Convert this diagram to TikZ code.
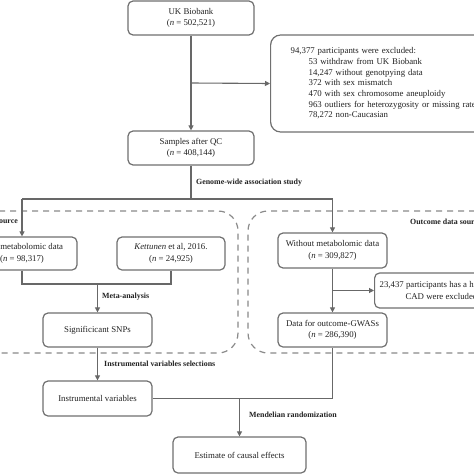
\documentclass[tikz,border=0pt]{standalone}
\usepackage{fontspec}
\setmainfont{Liberation Serif}
\usetikzlibrary{arrows.meta}
\definecolor{boxc}{HTML}{707070}
\definecolor{linec}{HTML}{686868}
\definecolor{dashc}{HTML}{8A8A8A}
\definecolor{txtc}{HTML}{222222}
\begin{document}
\begin{tikzpicture}[x=1pt,y=-1pt,
  box/.style={draw=boxc, line width=1.2pt, rounded corners=5pt, text=txtc,
    align=center, inner sep=2pt, font=\fontsize{8.8}{11.3}\selectfont},
  conn/.style={draw=linec, line width=1.1pt},
  arr/.style={conn, -{Triangle[length=5pt,width=5pt]}},
  lbl/.style={font=\fontsize{7.9}{9}\selectfont\bfseries, text=txtc, inner sep=0pt},
  region/.style={draw=dashc, line width=1.2pt, dash pattern=on 6pt off 5pt, rounded corners=20pt}]
\useasboundingbox (0,0) rectangle (474,474);
\clip (0,0) rectangle (474,474);
\fill[white] (0,0) rectangle (474,474);

% dashed regions
\draw[region] (-12,211) -- (238,211) -- (238,353) -- (-12,353);
\draw[region] (486,211) -- (248,211) -- (248,353) -- (486,353);

% nodes
\node[box, minimum width=126pt, minimum height=34pt] (uk) at (191,18) {UK Biobank\\(\textit{n} = 502,521)};
\node[box, anchor=west, rounded corners=10pt, minimum height=97pt, text width=190pt, inner xsep=20pt, align=left,
  font=\fontsize{8.8}{10.7}\selectfont] (excl) at (270,83.5)
  {94,377 participants were excluded:\\
   \hspace*{18pt}53 withdraw from UK Biobank\\
   \hspace*{18pt}14,247 without genotpying data\\
   \hspace*{18pt}372 with sex mismatch\\
   \hspace*{18pt}470 with sex chromosome aneuploidy\\
   \hspace*{18pt}963 outliers for heterozygosity or missing rate\\
   \hspace*{18pt}78,272 non-Caucasian};
\node[box, minimum width=126pt, minimum height=34pt] (samples) at (191,148) {Samples after QC\\(\textit{n} = 408,144)};
\node[box, minimum width=110pt, minimum height=33pt] (metab) at (22,253.5) {With metabolomic data\\(\textit{n} = 98,317)};
\node[box, minimum width=108pt, minimum height=33pt] (kett) at (171,253.5) {\textit{Kettunen} et al, 2016.\\(\textit{n} = 24,925)};
\node[box, minimum width=109pt, minimum height=34pt] (snps) at (97.5,330) {Significicant SNPs};
\node[box, minimum width=109pt, minimum height=35pt] (without) at (332.5,250.5) {Without metabolomic data\\(\textit{n} = 309,827)};
\node[box, anchor=west, minimum height=35pt, inner xsep=5pt] (cad) at (374,290.5) {23,437 participants has a history of\\CAD were excluded};
\node[box, minimum width=109pt, minimum height=34pt] (data) at (332.5,330) {Data for outcome-GWASs\\(\textit{n} = 286,390)};
\node[box, minimum width=109pt, minimum height=35pt] (iv) at (97.5,398.5) {Instrumental variables};
\node[box, minimum width=133pt, minimum height=36pt] (est) at (239.5,455) {Estimate of causal effects};

% labels
\node[lbl, anchor=west] (lg) at (196,183) {Genome-wide association study};
\node[lbl, anchor=west] (lm) at (102,297) {Meta-analysis};
\node[lbl, anchor=west] (li) at (104,364) {Instrumental variables selections};
\node[lbl, anchor=west] (lr) at (249,415) {Mendelian randomization};
\node[lbl, anchor=east] (lexp) at (18,222) {Exposure data source};
\node[lbl, anchor=west] (lout) at (410,222) {Outcome data source};

% coordinates
\coordinate (b1) at (191,83);
\coordinate (g1) at (191,199);
\coordinate (gl) at (22,199);
\coordinate (gr) at (332.5,199);
\coordinate (m1) at (22,284);
\coordinate (m2) at (171,284);
\coordinate (mc) at (97.5,284);
\coordinate (c1) at (332.5,290.5);
\coordinate (r1) at (332.5,398.5);
\coordinate (r0) at (239.5,398.5);

% connectors
\draw[arr] (uk.south) -- (samples.north);
\draw[arr] (b1) -- (excl.west);
\draw[conn] (samples.south) -- (g1);
\draw[conn] (gl) -- (gr);
\draw[arr] (gl) -- (metab.north);
\draw[arr] (gr) -- (without.north);
\draw[conn] (metab.south) -- (m1) -- (m2) -- (kett.south);
\draw[arr] (mc) -- (snps.north);
\draw[arr] (without.south) -- (data.north);
\draw[arr] (c1) -- (cad.west);
\draw[arr] (snps.south) -- (iv.north);
\draw[conn] (iv.east) -- (r1) -- (data.south);
\draw[arr] (r0) -- (est.north);
\end{tikzpicture}
\end{document}
